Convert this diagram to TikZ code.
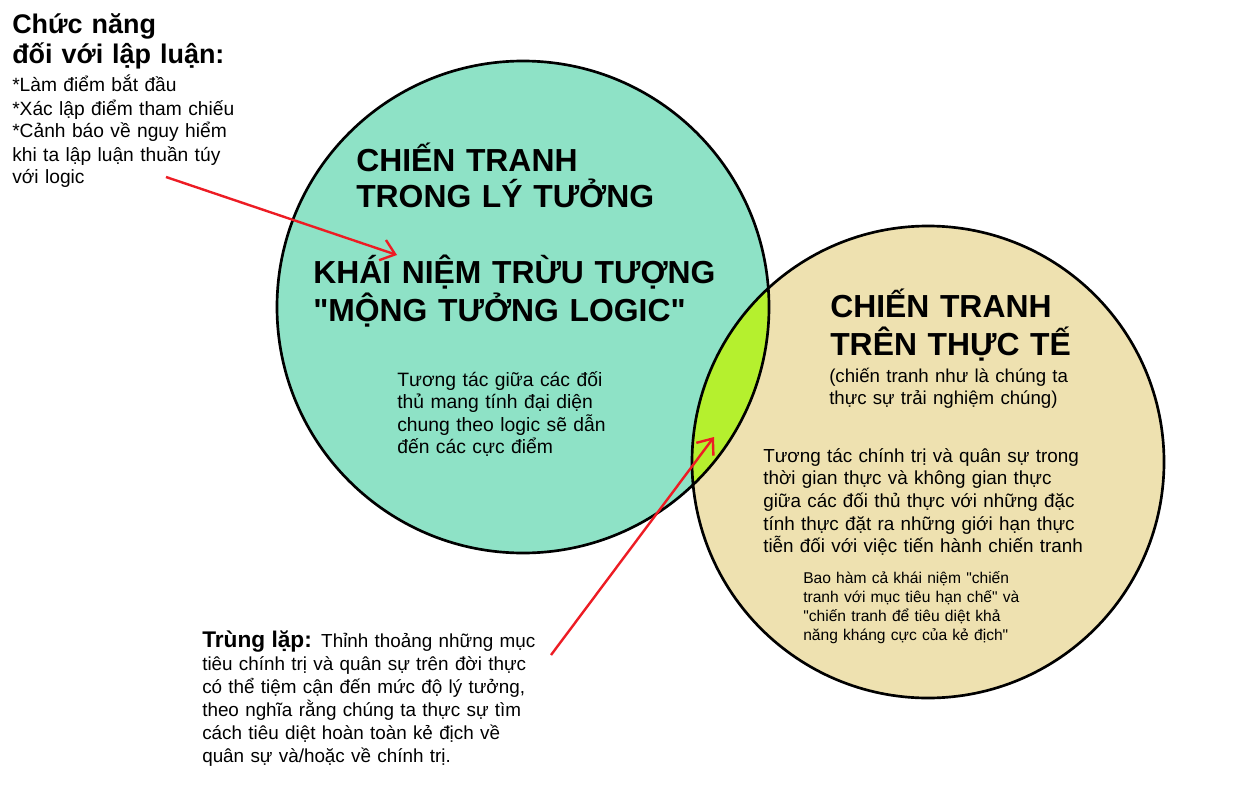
\documentclass[tikz,border=0pt]{standalone}
\usepackage{fontspec}
\setmainfont{Liberation Sans}[Ligatures=TeXOff]
\usetikzlibrary{arrows.meta}
\definecolor{idealc}{RGB}{142,226,198}
\definecolor{realc}{RGB}{238,225,176}
\definecolor{lensc}{RGB}{181,240,46}
\definecolor{arrowc}{RGB}{237,28,36}
\begin{document}
\begin{tikzpicture}[x=0.75pt,y=-0.75pt,
  txt/.style={anchor=base west, inner sep=0pt, align=left, text width=#1},
  ring/.style={draw=black, line width=2pt},
  pointer/.style={draw=arrowc, line width=1.8pt, -{Straight Barb[length=10pt,width=16pt,line width=1.8pt]}}]
\useasboundingbox[fill=white] (0,0) rectangle (1256,792);
\coordinate (cI) at (523,307);
\coordinate (cR) at (928,462);
% circles
\fill[idealc] (cI) circle[radius=246];
\fill[realc] (cR) circle[radius=236];
\begin{scope}
  \clip (cI) circle[radius=246];
  \fill[lensc] (cR) circle[radius=236];
\end{scope}
\draw[ring] (cI) circle[radius=246];
\draw[ring] (cR) circle[radius=236];
% top-left texts
\node[txt=300pt, font=\fontsize{20.2}{22.5}\selectfont\bfseries] (title) at (12,34) {Chức năng\\đối với lập luận:};
\node[txt=300pt, font=\fontsize{14.4}{17.25}\selectfont] (bullets) at (12,92) {*Làm điểm bắt đầu\\{}*Xác lập điểm tham chiếu\\{}*Cảnh báo về nguy hiểm\\khi ta lập luận thuần túy\\với logic};
% ideal circle texts
\node[txt=400pt, font=\fontsize{23.9}{27.75}\selectfont\bfseries] (idealt) at (356,171) {CHIẾN TRANH\\TRONG LÝ TƯỞNG};
\node[txt=400pt, font=\fontsize{23.9}{28.5}\selectfont\bfseries] (abstr) at (313,283) {KHÁI NIỆM TRỪU TƯỢNG\\"MỘNG TƯỞNG LOGIC"};
\node[txt=300pt, font=\fontsize{14.5}{16.9}\selectfont] (idealb) at (397,386) {Tương tác giữa các đối\\thủ mang tính đại diện\\chung theo logic sẽ dẫn\\đến các cực điểm};
% real circle texts
\node[txt=400pt, font=\fontsize{23.9}{28.5}\selectfont\bfseries] (realt) at (830,317) {CHIẾN TRANH\\TRÊN THỰC TẾ};
\node[txt=300pt, font=\fontsize{14}{16.5}\selectfont] (paren) at (829,382) {(chiến tranh như là chúng ta\\thực sự trải nghiệm chúng)};
\node[txt=320pt, font=\fontsize{14.15}{17}\selectfont] (realb) at (763,462) {Tương tác chính trị và quân sự trong\\thời gian thực và không gian thực\\giữa các đối thủ thực với những đặc\\tính thực đặt ra những giới hạn thực\\tiễn đối với việc tiến hành chiến tranh};
\node[txt=300pt, font=\fontsize{11.7}{14.25}\selectfont] (incl) at (803,583) {Bao hàm cả khái niệm "chiến\\tranh với mục tiêu hạn chế" và\\"chiến tranh để tiêu diệt khả\\năng kháng cực của kẻ địch"};
% bottom text
\node[txt=320pt, font=\fontsize{14.15}{17.25}\selectfont] (overlap) at (202,647) {{\fontsize{17}{17.25}\selectfont\bfseries Trùng lặp:} Thỉnh thoảng những mục\\tiêu chính trị và quân sự trên đời thực\\có thể tiệm cận đến mức độ lý tưởng,\\theo nghĩa rằng chúng ta thực sự tìm\\cách tiêu diệt hoàn toàn kẻ địch về\\quân sự và/hoặc về chính trị.};
% arrows
\coordinate (a1s) at (166,177);
\coordinate (a1e) at (397,255);
\coordinate (a2s) at (551,655);
\coordinate (a2e) at (714,437);
\draw[pointer] (a1s) -- (a1e);
\draw[pointer] (a2s) -- (a2e);
\end{tikzpicture}
\end{document}
